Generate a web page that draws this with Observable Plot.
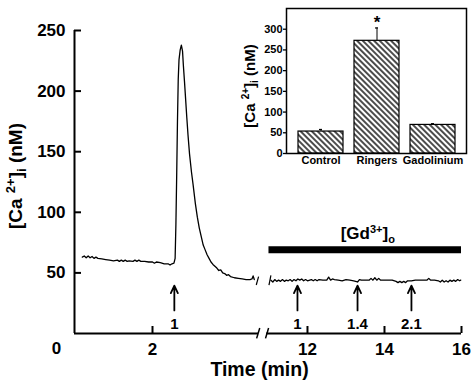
<!DOCTYPE html>
<html><head><meta charset="utf-8">
<script src="https://cdn.jsdelivr.net/npm/d3@7"></script>
<script src="https://cdn.jsdelivr.net/npm/@observablehq/plot@0.6"></script>
<style>
body{margin:0;background:#fff;}
#wrap{position:relative;width:474px;height:384px;background:#fff;}
#main,#inset{position:absolute;top:0;}
#main{left:0;}
#inset{left:240px;}
</style></head><body>
<svg width="0" height="0" style="position:absolute">
<defs><pattern id="hatch" patternUnits="userSpaceOnUse" width="4" height="4" patternTransform="rotate(-45)">
<rect width="4" height="4" fill="#fff"/><line x1="2" y1="0" x2="2" y2="4" stroke="#000" stroke-width="1.4"/></pattern></defs></svg>
<div id="wrap"><div id="main"></div><div id="inset"></div></div>
<script>
const FONT = "Liberation Sans, Arial, Helvetica, sans-serif";

// ---- main trace data (time min, [Ca2+]i nM) ----
const trace1T = [0.2,0.25,0.3,0.35,0.4,0.45,0.5,0.55,0.6,0.7,0.8,0.9,1.0,1.1,1.15,1.2,1.25,1.3,1.35,1.4,1.5,1.55,1.6,1.65,1.7,1.8,1.9,2.0,2.05,2.1,2.2,2.3,2.4,2.45,2.5,2.55,2.58,2.6,2.62,2.64,2.66,2.68,2.71,2.74,2.77,2.79,2.82,2.85,2.88,2.91,2.95,3.0,3.04,3.1,3.15,3.2,3.25,3.3,3.35,3.4,3.45,3.5,3.55,3.6,3.65,3.7,3.75,3.8,3.85,3.9,3.95,4.0,4.1,4.2,4.3,4.4,4.5,4.55,4.58,4.61];
const trace1V = [63,64,62.5,64,62.5,63.5,62,63,62,61.5,61,60.5,60,60.5,59.5,60.5,59.5,60.5,59.5,60,59.5,60.5,59.5,60.5,59.5,59.5,59,59,58,59,58.5,57.5,57.5,56.5,57.5,58,62,90,130,175,210,226,234,238,233,222,208,193,178,164,148,133,123,107,96,87,80,73,69,65,62,59,57,55.5,54,52,52.5,50,49.5,48,48.5,47,46,45.5,45,44.5,44.5,45,47.5,44.5];
const trace2T = [11.05,11.1,11.15,11.2,11.25,11.3,11.35,11.4,11.45,11.5,11.55,11.6,11.65,11.7,11.75,11.8,11.85,11.9,11.95,12.0,12.1,12.15,12.2,12.25,12.3,12.4,12.5,12.55,12.6,12.65,12.7,12.8,12.9,13.0,13.1,13.2,13.3,13.35,13.4,13.5,13.6,13.65,13.7,13.75,13.8,13.85,13.9,14.0,14.1,14.2,14.3,14.35,14.4,14.45,14.5,14.55,14.6,14.7,14.8,14.9,15.0,15.1,15.15,15.2,15.3,15.4,15.45,15.5,15.55,15.6,15.65,15.7,15.75,15.8,15.85,15.9,15.95,15.98];
const trace2V = [44,42.5,44.5,43,44,43,44.5,43,44,43.5,44.5,43,44.5,43.5,45,44,45,43.5,44.5,43.5,44.5,43.5,44.5,43.5,44.5,44,44,46.5,44,45,44.5,44,43.5,44.5,44,43.5,42.5,44.5,44,44,44,45.5,44,46,44,45.5,44,44,44,44,43,42,43,42,43,42,43.5,43.5,44,44,44,44,45.5,44,44,43.5,42.5,44,42.5,43.5,42.5,44,43,44,43,44.5,43.5,44];

// ---- axes / annotations ----
const xDomainPieces = [0, 4.75, 10.85, 16];
const yTicks = [50, 100, 150, 200, 250];
const xTicks = [2, 12, 14, 16];
const arrowTimes = [2.56, 11.74, 13.30, 14.70];
const arrowLabels = ["1", "1", "1.4", "2.1"];
const gdStart = 11.0, gdEnd = 16, gdLevel = 69;

// ---- inset data ----
const cats = ["Control", "Ringers", "Gadolinium"];
const means = [53, 272, 69];
const errs = [5, 31, 3];
const insetTicks = [0, 50, 100, 150, 200, 250, 300];

const seg1 = trace1T.map((t, i) => ({t, v: trace1V[i]}));
const seg2 = trace2T.map((t, i) => ({t, v: trace2V[i]}));
const arrows = arrowTimes.map((t, i) => ({t, label: arrowLabels[i]}));
const axisBreaks = [{a: 4.67, b: 4.75}, {a: 10.91, b: 10.99}];
const traceBreaks = [{a: 4.66, b: 4.72, v1: 40, v2: 47}, {a: 11.0, b: 11.05, v1: 40, v2: 48}];

const main = Plot.plot({
  width: 474, height: 384,
  marginLeft: 74, marginRight: 13, marginTop: 30, marginBottom: 51,
  x: {type: "linear", domain: xDomainPieces, range: [74, 259.25, 262.7, 461], axis: null},
  y: {domain: [0, 250], axis: null},
  style: {fontFamily: FONT, background: "transparent", overflow: "visible"},
  marks: [
    Plot.ruleX([0], {y1: 0, y2: 250, strokeWidth: 2}),
    Plot.ruleY([0], {x1: 0, x2: 4.72, strokeWidth: 2}),
    Plot.ruleY([0], {x1: 10.94, x2: 16, strokeWidth: 2}),
    Plot.link(axisBreaks, {x1: "a", x2: "b", y1: -4, y2: 4.5, strokeWidth: 1.5}),
    Plot.tickY(yTicks, {y: d => d, insetRight: 380, strokeWidth: 2}),
    Plot.tickX(xTicks, {x: d => d, insetTop: 296, strokeWidth: 2}),
    Plot.text(yTicks, {x: 0, y: d => d, text: d => String(d), textAnchor: "end", dx: -9, fontSize: 17, fontWeight: "bold"}),
    Plot.text([0], {x: 0, y: 0, text: d => String(d), dx: -18, dy: 15, fontSize: 17, fontWeight: "bold"}),
    Plot.text(xTicks, {x: d => d, y: 0, text: d => String(d), dy: 16, fontSize: 17, fontWeight: "bold"}),
    Plot.text(["Time (min)"], {frameAnchor: "bottom", text: d => d, dx: -8.5, dy: 42, fontSize: 19.5, fontWeight: "bold"}),
    Plot.line(seg1, {x: "t", y: "v", strokeWidth: 1.3}),
    Plot.line(seg2, {x: "t", y: "v", strokeWidth: 1.3}),
    Plot.link(traceBreaks, {x1: "a", x2: "b", y1: "v1", y2: "v2", strokeWidth: 1.2}),
    Plot.arrow(arrows, {x1: "t", x2: "t", y1: 19, y2: 39.5, headLength: 12, headAngle: 50, strokeWidth: 1.8}),
    Plot.text(arrows, {x: "t", y: 8, text: "label", fontSize: 15, fontWeight: "bold"}),
    Plot.ruleY([gdLevel], {x1: gdStart, x2: gdEnd, strokeWidth: 7})
  ]
});
document.getElementById("main").append(main);

{
  const svg = d3.select(main);
  const lab = svg.append("text").attr("transform", "translate(22,176) rotate(-90)")
    .attr("text-anchor", "middle").attr("font-size", 19).attr("font-weight", "bold").attr("font-family", FONT).attr("fill", "#000");
  lab.append("tspan").text("[Ca ");
  lab.append("tspan").attr("font-size", 13).attr("dy", -7).text("2+");
  lab.append("tspan").attr("dy", 7).text("]");
  lab.append("tspan").attr("font-size", 13).attr("dy", 4).text("i");
  lab.append("tspan").attr("dy", -4).text(" (nM)");

  const xs = main.scale("x"), ys = main.scale("y");
  const gd = svg.append("text").attr("x", xs.apply(13.58)).attr("y", ys.apply(gdLevel) - 10)
    .attr("text-anchor", "middle").attr("font-size", 17).attr("font-weight", "bold").attr("font-family", FONT).attr("fill", "#000");
  gd.append("tspan").text("[Gd");
  gd.append("tspan").attr("font-size", 11).attr("dy", -6).text("3+");
  gd.append("tspan").attr("dy", 6).text("]");
  gd.append("tspan").attr("font-size", 11).attr("dy", 4).text("o");
}

const bars = cats.map((c, i) => ({c, m: means[i], e: errs[i]}));
const inset = Plot.plot({
  width: 234, height: 175,
  marginLeft: 46, marginRight: 8, marginTop: 8, marginBottom: 22,
  x: {type: "band", domain: cats, padding: 0.2, axis: null},
  y: {domain: [0, 350], axis: null},
  style: {fontFamily: FONT, background: "transparent", overflow: "visible"},
  marks: [
    Plot.barY(bars, {x: "c", y: "m", fill: "url(#hatch)", stroke: "#000", strokeWidth: 1.2}),
    Plot.ruleX(bars, {x: "c", y1: "m", y2: d => d.m + d.e, strokeWidth: 1}),
    Plot.tickY(bars, {x: "c", y: d => d.m + d.e, insetLeft: 21, insetRight: 21, strokeWidth: 1.2}),
    Plot.text(bars.filter(d => d.c === "Ringers"), {x: "c", y: d => d.m + d.e + 12, text: () => "*", fontSize: 17, fontWeight: "bold"}),
    Plot.frame({strokeWidth: 1.5}),
    Plot.axisY(insetTicks, {tickSize: 3, tickPadding: 1, fontSize: 11, fontWeight: "bold", label: null, strokeWidth: 1.3}),
    Plot.text(cats, {x: d => d, frameAnchor: "bottom", text: d => d, dy: 10, fontSize: 11, fontWeight: "bold"})
  ]
});
document.getElementById("inset").append(inset);
{
  const svg = d3.select(inset);
  const lab = svg.append("text").attr("transform", "translate(15,86) rotate(-90)")
    .attr("text-anchor", "middle").attr("font-size", 15).attr("font-weight", "bold").attr("font-family", FONT).attr("fill", "#000");
  lab.append("tspan").text("[Ca ");
  lab.append("tspan").attr("font-size", 10).attr("dy", -6).text("2+");
  lab.append("tspan").attr("dy", 6).text("]");
  lab.append("tspan").attr("font-size", 10).attr("dy", 3).text("i");
  lab.append("tspan").attr("dy", -3).text(" (nM)");
}
</script>
</body></html>
